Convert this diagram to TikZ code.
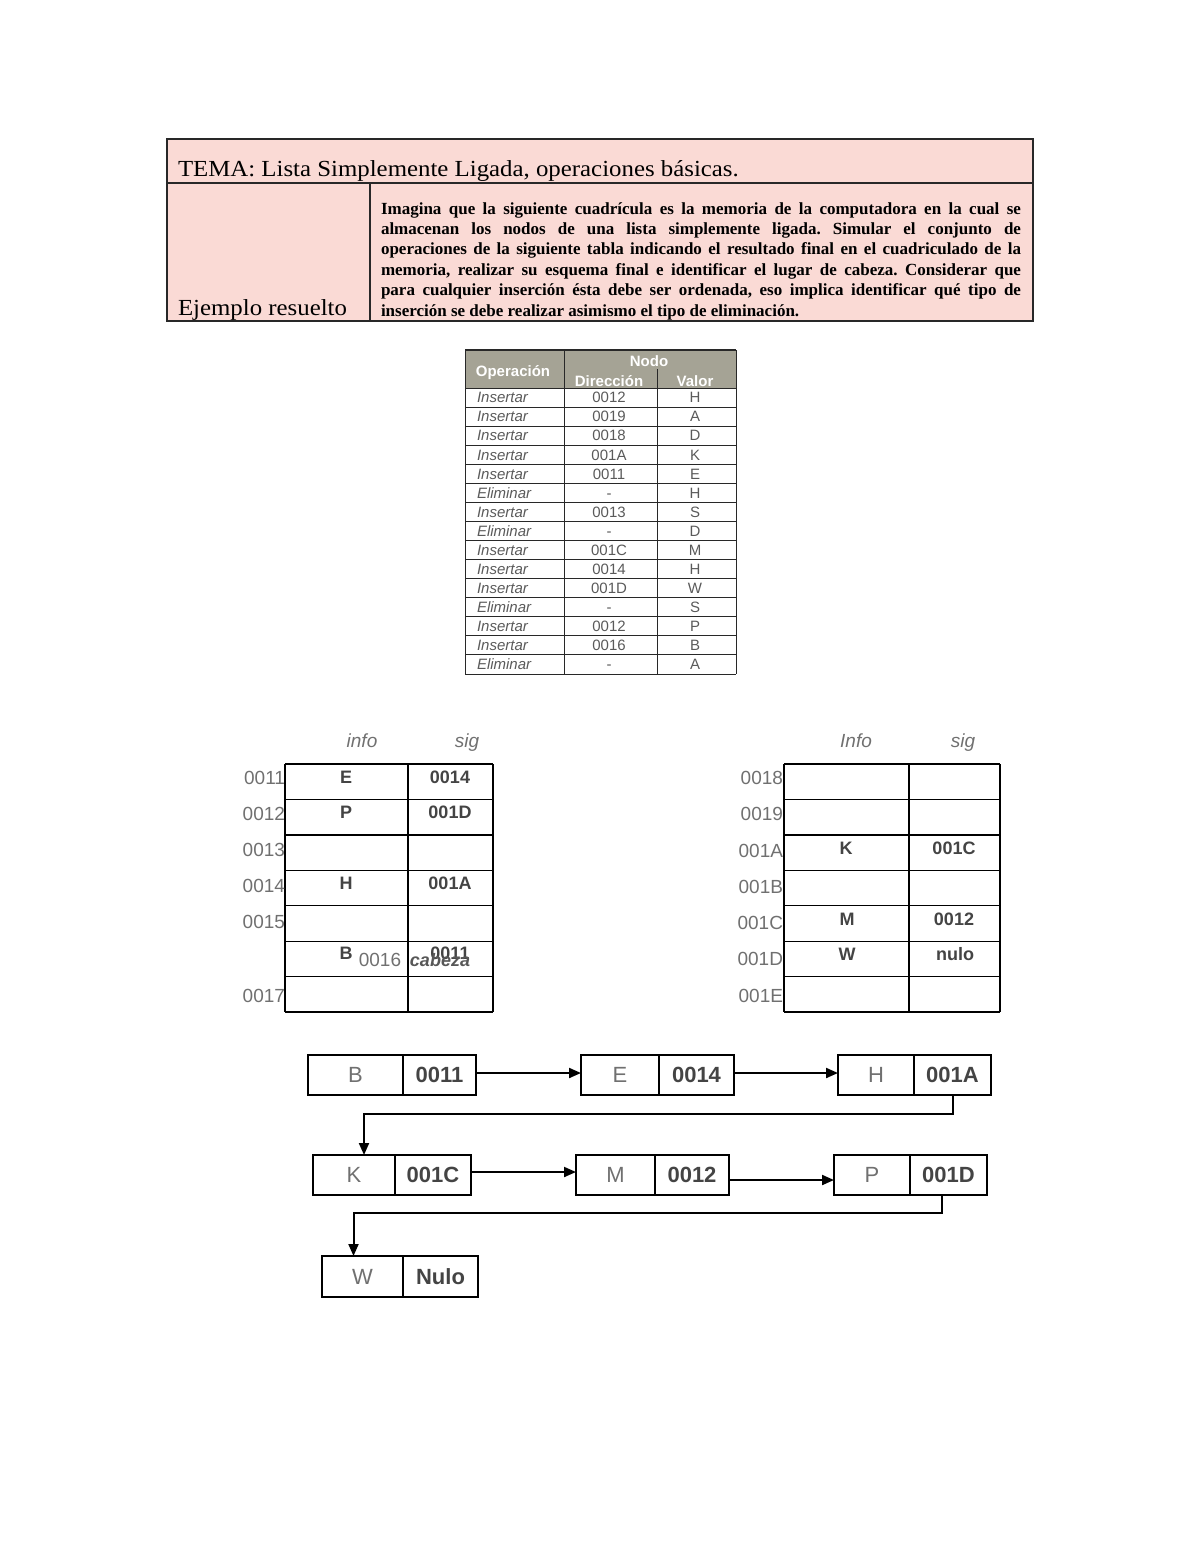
\documentclass[tikz,border=0pt]{standalone}
\usepackage{fontspec}
\setmainfont{Liberation Serif}
\newfontfamily\sansf{Liberation Sans}
\newfontfamily\condser[FakeStretch=1.0]{Liberation Serif}
\newfontfamily\wideser[FakeStretch=1.08]{Liberation Serif}
\usetikzlibrary{arrows.meta}
\definecolor{pinkbg}{RGB}{250,218,213}
\definecolor{hdrgray}{RGB}{165,163,149}
\definecolor{txtgray}{RGB}{90,90,90}
\definecolor{lblgray}{RGB}{112,112,112}
\definecolor{valdark}{RGB}{68,68,68}
\definecolor{lined}{RGB}{40,40,40}
\frenchspacing
\begin{document}
\begin{tikzpicture}[x=1pt,y=-1pt,
  every node/.style={inner sep=0pt, outer sep=0pt},
  titletxt/.style={font=\wideser\fontsize{23}{26}\selectfont, anchor=base west},
  paraline/.style={font=\condser\bfseries\fontsize{17}{20}\selectfont, anchor=base west},
  hdr/.style={font=\sansf\bfseries\fontsize{15}{17}\selectfont, text=white, anchor=base},
  opt/.style={font=\sansf\itshape\fontsize{15}{17}\selectfont, text=txtgray, anchor=base west},
  opc/.style={font=\sansf\fontsize{15}{17}\selectfont, text=txtgray, anchor=base},
  tline/.style={draw=lined, line width=1pt},
  gline/.style={draw=black, line width=1.3pt},
  addr/.style={font=\sansf\fontsize{19}{21}\selectfont, text=lblgray, anchor=base east},
  colhdr/.style={font=\sansf\itshape\fontsize{19}{21}\selectfont, text=lblgray, anchor=base},
  val/.style={font=\sansf\bfseries\fontsize{18}{20}\selectfont, text=valdark, anchor=base},
  lbox/.style={draw=black, line width=2.5pt, minimum height=40pt},
  lletter/.style={lbox, font=\sansf\fontsize{22}{24}\selectfont, text=lblgray},
  lval/.style={lbox, font=\sansf\bfseries\fontsize{22}{24}\selectfont, text=valdark},
  arr/.style={line width=2pt, -{Triangle[length=12pt,width=10pt]}}
]
\path[use as bounding box] (0,0) rectangle (1200,1553);

% ---------- header table ----------
\fill[pinkbg] (167,139) rectangle (1033,321);
\draw[tline, line width=1.3pt] (167,139) rectangle (1033,321);
\draw[tline, line width=1.3pt] (167,183) -- (1033,183);
\draw[tline, line width=1.3pt] (370,183) -- (370,321);
\node[titletxt] (title) at (178,176) {TEMA: Lista Simplemente Ligada, operaciones básicas.};
\node[titletxt] (ejemplo) at (178,315) {Ejemplo resuelto};
\node[paraline] (p1) at (381,214) {\makebox[640pt][s]{Imagina que la siguiente cuadrícula es la memoria de la computadora en la cual se}};
\node[paraline] (p2) at (381,234.4) {\makebox[640pt][s]{almacenan los nodos de una lista simplemente ligada. Simular el conjunto de}};
\node[paraline] (p3) at (381,254.8) {\makebox[640pt][s]{operaciones de la siguiente tabla indicando el resultado final en el cuadriculado de la}};
\node[paraline] (p4) at (381,275.2) {\makebox[640pt][s]{memoria, realizar su esquema final e identificar el lugar de cabeza. Considerar que}};
\node[paraline] (p5) at (381,295.6) {\makebox[640pt][s]{para cualquier inserción ésta debe ser ordenada, eso implica identificar qué tipo de}};
\node[paraline] (p6) at (381,316) {inserción se debe realizar asimismo el tipo de eliminación.};

% ---------- operations table ----------
\fill[hdrgray] (465,350) rectangle (736,388);
\foreach \k in {0,...,15} {
  \draw[tline] (465,{388+19.07*\k}) -- (736,{388+19.07*\k});
}
\draw[tline, line width=2pt] (465,350) -- (736,350);
\draw[tline] (465,350) -- (465,674);
\draw[tline] (736,350) -- (736,674);
\draw[tline] (564,350) -- (564,674);
\draw[tline] (657,369) -- (657,674);
\node[hdr] (hop) at (513,376) {Operación};
\node[hdr] (hnodo) at (649,366) {Nodo};
\node[hdr] (hdir) at (609,386) {Dirección};
\node[hdr] (hval) at (695,386) {Valor};
\foreach \op/\dir/\vv [count=\i] in {Insertar/0012/H, Insertar/0019/A, Insertar/0018/D, Insertar/001A/K, Insertar/0011/E, Eliminar/-/H, Insertar/0013/S, Eliminar/-/D, Insertar/001C/M, Insertar/0014/H, Insertar/001D/W, Eliminar/-/S, Insertar/0012/P, Insertar/0016/B, Eliminar/-/A} {
  \pgfmathsetmacro{\yb}{388+19.07*(\i-1)+14.8}
  \node[opt] (op\i) at (477,\yb) {\op};
  \node[opc] (dir\i) at (609,\yb) {\dir};
  \node[opc] (val\i) at (695,\yb) {\vv};
}

% ---------- memory grid left ----------
\foreach \k in {0,...,7} {
  \draw[gline] (285,{764+35.43*\k}) -- (493,{764+35.43*\k});
}
\draw[gline] (285,764) -- (285,1012);
\draw[gline] (408,764) -- (408,1012);
\draw[gline] (493,764) -- (493,1012);
\node[colhdr] (linfo) at (362,747) {info};
\node[colhdr] (lsig) at (467,747) {sig};
\node[addr] (a11) at (285,784) {0011};
\node[addr] (a12) at (285,820) {0012};
\node[addr] (a13) at (285,856) {0013};
\node[addr] (a14) at (285,892) {0014};
\node[addr] (a15) at (285,928) {0015};
\node[addr] (a17) at (285,1002) {0017};
\node[val] (vE) at (346,783) {E};
\node[val] (v0014) at (450,783) {0014};
\node[val] (vP) at (346,818) {P};
\node[val] (v001D) at (450,818) {001D};
\node[val] (vH) at (346,889) {H};
\node[val] (v001A) at (450,889) {001A};
\node[val] (vB) at (346,959) {B};
\node[addr, anchor=base] (a16) at (380,966) {0016};
\node[val] (v0011) at (450,959) {0011};
\node[val, font=\sansf\bfseries\itshape\fontsize{18}{20}\selectfont, text=valdark!90] (cab) at (440,966) {cabeza};

% ---------- memory grid right ----------
\foreach \k in {0,...,7} {
  \draw[gline] (784,{764+35.43*\k}) -- (1000,{764+35.43*\k});
}
\draw[gline] (784,764) -- (784,1012);
\draw[gline] (909,764) -- (909,1012);
\draw[gline] (1000,764) -- (1000,1012);
\node[colhdr] (rinfo) at (856,747) {Info};
\node[colhdr] (rsig) at (963,747) {sig};
\node[addr] (a18) at (783,784) {0018};
\node[addr] (a19) at (783,820) {0019};
\node[addr] (a1A) at (783,857) {001A};
\node[addr] (a1B) at (783,893) {001B};
\node[addr] (a1C) at (783,929) {001C};
\node[addr] (a1D) at (783,965) {001D};
\node[addr] (a1E) at (783,1002) {001E};
\node[val] (vK) at (846,854) {K};
\node[val] (v001C) at (954,854) {001C};
\node[val] (vM) at (847,925) {M};
\node[val] (v0012) at (954,925) {0012};
\node[val] (vW) at (847,960) {W};
\node[val] (vnulo) at (955,960) {nulo};

% ---------- linked list ----------
\node[lletter, minimum width=95pt] (b1) at (355.5,1075) {B};
\node[lval, minimum width=73pt] (b2) at (439.5,1075) {0011};
\node[lletter, minimum width=78pt] (e1) at (620,1075) {E};
\node[lval, minimum width=75pt] (e2) at (696.5,1075) {0014};
\node[lletter, minimum width=76pt] (h1) at (876,1075) {H};
\node[lval, minimum width=77pt] (h2) at (952.5,1075) {001A};

\node[lletter, minimum width=82pt] (k1) at (354,1175) {K};
\node[lval, minimum width=76pt] (k2) at (433,1175) {001C};
\node[lletter, minimum width=79pt] (m1) at (615.5,1175) {M};
\node[lval, minimum width=74pt] (m2) at (692,1175) {0012};
\node[lletter, minimum width=76pt] (p1b) at (872,1175) {P};
\node[lval, minimum width=77pt] (p2b) at (948.5,1175) {001D};

\node[lletter, line width=1.5pt, minimum width=81pt, minimum height=41pt] (w1) at (362.5,1276.5) {W};
\node[lval, line width=1.5pt, minimum width=75pt, minimum height=41pt] (w2) at (440.5,1276.5) {Nulo};

\draw[arr] ([yshift=2pt]b2.east) -- ([yshift=2pt]e1.west);
\draw[arr] ([yshift=2pt]e2.east) -- ([yshift=2pt]h1.west);
\draw[arr] (h2.south) -- ++(0,19) -| ([xshift=10pt]k1.north);
\draw[arr] ([yshift=3pt]k2.east) -- ([yshift=3pt]m1.west);
\draw[arr] ([yshift=-5pt]m2.east) -- ([yshift=-5pt]p1b.west);
\draw[arr] ([xshift=-7pt]p2b.south) -- ++(0,18) -| ([xshift=-9pt]w1.north);
\end{tikzpicture}
\end{document}
